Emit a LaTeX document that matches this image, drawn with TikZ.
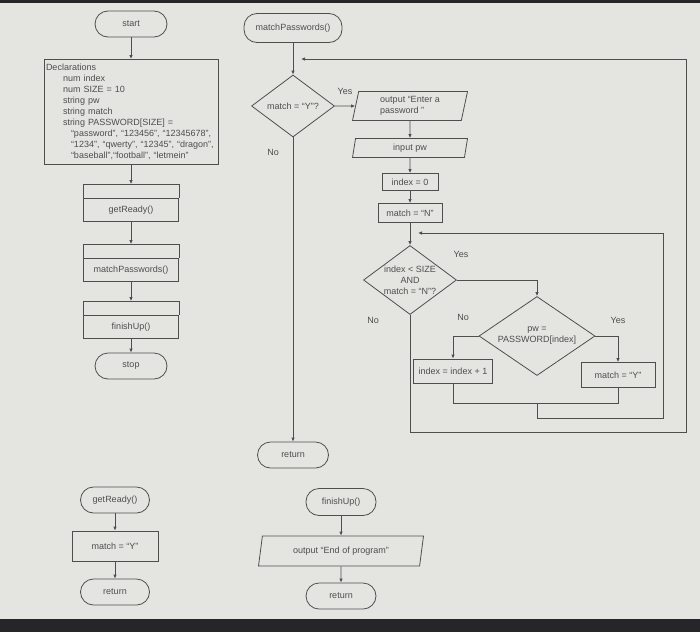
\documentclass[tikz,border=0pt]{standalone}
\usepackage{fontspec}
\setmainfont{Liberation Sans}
\usetikzlibrary{arrows.meta}
\usetikzlibrary{shapes.geometric}

\definecolor{screen}{RGB}{228,228,225}
\definecolor{bezel}{RGB}{38,38,40}
\definecolor{ink}{RGB}{78,78,78}

\begin{document}
\begin{tikzpicture}[
	x=1pt, y=-1pt,
	every node/.style={ font=\fontsize{9}{11}\selectfont, text=ink },
	terminal/.style={ draw=ink, line width=0.8pt, rounded corners=13pt, minimum height=26pt, inner sep=0 },
	process/.style={ draw=ink, line width=0.8pt, minimum height=19pt, inner sep=0 },
	predef/.style={ draw=ink, line width=0.8pt, minimum width=95pt, minimum height=23pt, inner sep=0 },
	decision/.style={ draw=ink, line width=0.8pt, diamond, inner sep=0, align=center },
	io/.style={ draw=ink, line width=0.8pt, trapezium, trapezium left angle=72, trapezium right angle=108, trapezium stretches body=true, inner sep=0 },
	flow/.style={ draw=ink, line width=0.8pt, -{Latex[length=4pt, width=3.5pt]} },
	wire/.style={ draw=ink, line width=0.8pt },
	]

	\useasboundingbox (0,0) rectangle (700,632);
	\fill[ screen ] (0,0) rectangle (700,632);
	\fill[ bezel ] (0,0) rectangle (700,3);
	\fill[ bezel ] (0,619) rectangle (700,632);

	\node[ terminal, minimum width=72pt ] (start) at (131,24) {start};
	\node[ draw=ink, line width=0.8pt, anchor=north, minimum width=174pt, minimum height=105pt, text width=170pt, inner xsep=2pt, align=left ] (decl) at (131,59) {Declarations\\
		\hspace*{17pt}num index\\
		\hspace*{17pt}num SIZE = 10\\
		\hspace*{17pt}string pw\\
		\hspace*{17pt}string match\\
		\hspace*{17pt}string PASSWORD[SIZE] =\\
		\hspace*{25pt}“password”, “123456”, “12345678”,\\
		\hspace*{25pt}“1234”, “qwerty”, “12345”, “dragon”,\\
		\hspace*{25pt}“baseball”,“football”, “letmein”};
	\node[ predef ] (ready) at (131,210) {getReady()};
	\node[ predef ] (passes) at (131,270) {matchPasswords()};
	\node[ predef ] (finish) at (131,327) {finishUp()};
	\node[ terminal, minimum width=72pt ] (stop) at (131,366) {stop};

	\foreach \blk in {ready, passes, finish}
		\draw[ wire ] (\blk.north west) -- ++(0,-14) -| (\blk.north east);

	\draw[ flow ] (start) -- (decl);
	\draw[ flow ] (decl) -- ([yshift=14pt]ready.north);
	\draw[ flow ] (ready) -- ([yshift=14pt]passes.north);
	\draw[ flow ] (passes) -- ([yshift=14pt]finish.north);
	\draw[ flow ] (finish) -- (stop);

	\node[ terminal, minimum width=98pt, minimum height=29pt ] (mpstart) at (293,28) {matchPasswords()};
	\node[ decision, aspect=1.34, minimum width=83pt, minimum height=62pt ] (isyes) at (293,106) {match = “Y”?};
	\node[ io, minimum width=115pt, minimum height=29pt, align=left ] (prompt) at (410,106) {output “Enter a\\password ”};
	\node[ io, trapezium left angle=70, trapezium right angle=110, minimum width=115pt, minimum height=19pt ] (readpw) at (410,148) {input pw};
	\node[ process, minimum width=56pt, minimum height=17pt ] (zero) at (410,182) {index = 0};
	\node[ process, minimum width=64pt ] (setno) at (410,213) {match = “N”};
	\node[ decision, aspect=1.35, minimum width=93pt, minimum height=69pt ] (inrange) at (410,280) {index < SIZE\\AND\\match = “N”?};
	\node[ decision, aspect=1.47, minimum width=116pt, minimum height=79pt ] (found) at (537,336) {pw =\\PASSWORD[index]};
	\node[ process, minimum width=79pt, minimum height=24pt ] (bump) at (453,371) {index = index + 1};
	\node[ process, minimum width=74pt, minimum height=25pt ] (setyes) at (618,375) {match = “Y”};
	\node[ terminal, minimum width=71pt ] (mpret) at (293,455) {return};

	\node (yes1) at (345,91) {Yes};
	\node (no1) at (273,152) {No};
	\node (yes2) at (461,254) {Yes};
	\node (no2) at (373,320) {No};
	\node (no3) at (463,317) {No};
	\node (yes3) at (618,320) {Yes};

	\coordinate (outerloop) at (293,59);
	\coordinate (innerloop) at (410,233);
	\coordinate (joined) at (537,403);

	\draw[ flow ] (mpstart) -- (isyes);
	\draw[ flow ] (isyes) -- (prompt);
	\draw[ flow ] (prompt) -- (readpw);
	\draw[ flow ] (readpw) -- (zero);
	\draw[ flow ] (zero) -- (setno);
	\draw[ flow ] (setno) -- (inrange);
	\draw[ flow ] (inrange.east) -| (found.north);
	\draw[ flow ] (found.west) -| (bump.north);
	\draw[ flow ] (found.east) -| (setyes.north);
	\draw[ wire ] (bump.south) -- ++(0,20) -| (setyes.south);
	\draw[ flow, shorten >=8pt ] (joined) -- ++(0,15) -- ++(126,0) |- (innerloop);
	\draw[ flow, shorten >=8pt ] (inrange.south) -- ++(0,117) -- ++(276,0) |- (outerloop);
	\draw[ flow ] (isyes) -- (mpret);

	\node[ terminal, minimum width=69pt ] (grstart) at (115,500) {getReady()};
	\node[ process, minimum width=86pt, minimum height=30pt ] (grset) at (115,546) {match = “Y”};
	\node[ terminal, minimum width=69pt ] (grret) at (115,592) {return};

	\node[ terminal, minimum width=70pt, minimum height=27pt ] (fustart) at (341,502) {finishUp()};
	\node[ io, trapezium left angle=65, trapezium right angle=115, minimum width=165pt, minimum height=30pt ] (bye) at (341,551) {output “End of program”};
	\node[ terminal, minimum width=70pt ] (furet) at (341,596) {return};

	\draw[ flow ] (grstart) -- (grset);
	\draw[ flow ] (grset) -- (grret);
	\draw[ flow ] (fustart) -- (bye);
	\draw[ flow ] (bye) -- (furet);

\end{tikzpicture}
\end{document}
